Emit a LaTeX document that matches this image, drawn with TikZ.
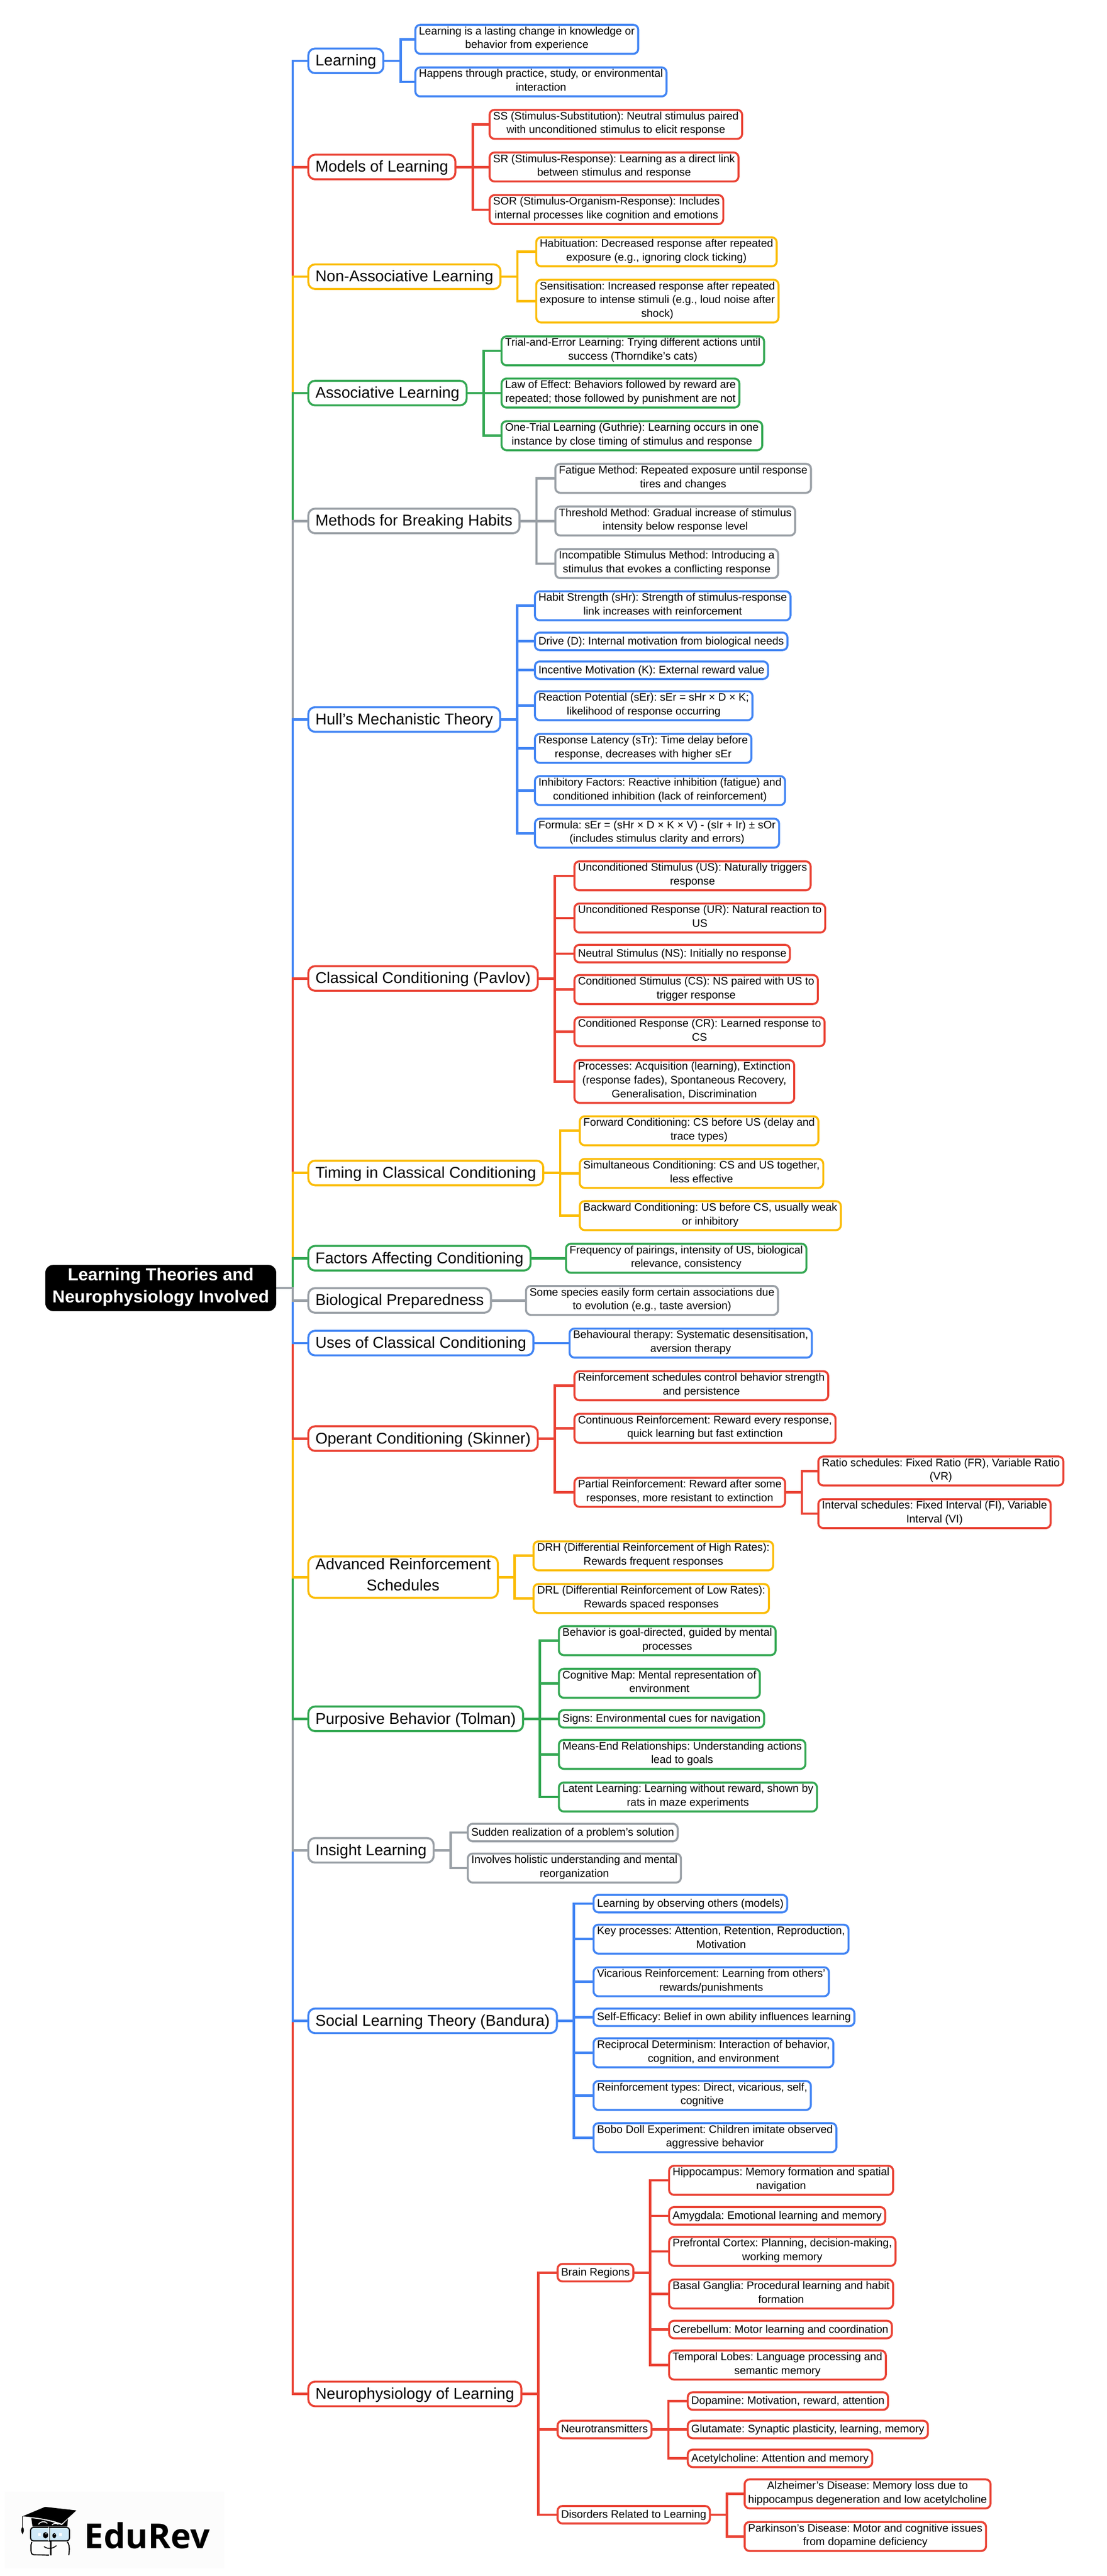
\documentclass[tikz,border=0pt]{standalone}
\usepackage{fontspec}
\setmainfont{Liberation Sans}
\newfontfamily\logofont{Open Sans}
\usepackage{tikz}
\usetikzlibrary{positioning}
\definecolor{cblue}{HTML}{4285F4}
\definecolor{cred}{HTML}{EA4335}
\definecolor{cyellow}{HTML}{FBBC04}
\definecolor{cgreen}{HTML}{34A853}
\definecolor{cgray}{HTML}{9AA0A6}
\definecolor{cglass}{HTML}{CFE8F7}
\newcommand{\mapstrut}{\rule[-.26\baselineskip]{0pt}{\baselineskip}}
\frenchspacing

\begin{document}
\begin{tikzpicture}
[rootbox/.style={rounded corners=0.18cm,fill=black,text=white,align=center,anchor=west,outer sep=0pt,inner xsep=0.16cm,inner ysep=0.065cm,font=\fontsize{11.1}{14.2}\selectfont\bfseries,execute at begin node=\mapstrut,execute at end node=\mapstrut},
mainbox/.style={rounded corners=0.15cm,draw=#1,fill=white,line width=0.045cm,align=center,anchor=west,outer sep=0pt,inner xsep=0.16cm,inner ysep=0.04cm,font=\fontsize{10}{13.46}\selectfont,execute at begin node=\mapstrut,execute at end node=\mapstrut},
leafbox/.style={rounded corners=0.11cm,draw=#1,fill=white,line width=0.045cm,align=center,anchor=west,outer sep=0pt,inner xsep=0.08cm,inner ysep=0.0425cm,font=\fontsize{7}{8.8}\selectfont,execute at begin node=\mapstrut,execute at end node=\mapstrut},
linkline/.style={draw=#1,line width=0.055cm}]
\useasboundingbox (0,0) rectangle (24.91,-58);

\node[rootbox] (root) at (1.02,-29.00) {Learning Theories and\\Neurophysiology Involved};

\node[mainbox=cblue] (learn) at (6.94,-1.37) {Learning};
\node[leafbox=cblue] (learn1) at (9.35,-0.885) {Learning is a lasting change in knowledge or\\behavior from experience};
\node[leafbox=cblue] (learn2) at (9.35,-1.845) {Happens through practice, study, or environmental\\interaction};

\node[mainbox=cred] (models) at (6.94,-3.76) {Models of Learning};
\node[leafbox=cred] (models1) at (11.02,-2.80) {SS (Stimulus-Substitution): Neutral stimulus paired\\with unconditioned stimulus to elicit response};
\node[leafbox=cred] (models2) at (11.02,-3.76) {SR (Stimulus-Response): Learning as a direct link\\between stimulus and response};
\node[leafbox=cred] (models3) at (11.02,-4.72) {SOR (Stimulus-Organism-Response): Includes\\internal processes like cognition and emotions};

\node[mainbox=cyellow] (nonassoc) at (6.94,-6.23) {Non-Associative Learning};
\node[leafbox=cyellow] (nonassoc1) at (12.07,-5.67) {Habituation: Decreased response after repeated\\exposure (e.g., ignoring clock ticking)};
\node[leafbox=cyellow] (nonassoc2) at (12.07,-6.78) {Sensitisation: Increased response after repeated\\exposure to intense stimuli (e.g., loud noise after\\shock)};

\node[mainbox=cgreen] (assoc) at (6.94,-8.85) {Associative Learning};
\node[leafbox=cgreen] (assoc1) at (11.29,-7.90) {Trial-and-Error Learning: Trying different actions until\\success (Thorndike's cats)};
\node[leafbox=cgreen] (assoc2) at (11.29,-8.85) {Law of Effect: Behaviors followed by reward are\\repeated; those followed by punishment are not};
\node[leafbox=cgreen] (assoc3) at (11.29,-9.81) {One-Trial Learning (Guthrie): Learning occurs in one\\instance by close timing of stimulus and response};

\node[mainbox=cgray] (habits) at (6.94,-11.73) {Methods for Breaking Habits};
\node[leafbox=cgray] (habits1) at (12.50,-10.77) {Fatigue Method: Repeated exposure until response\\tires and changes};
\node[leafbox=cgray] (habits2) at (12.50,-11.73) {Threshold Method: Gradual increase of stimulus\\intensity below response level};
\node[leafbox=cgray] (habits3) at (12.50,-12.69) {Incompatible Stimulus Method: Introducing a\\stimulus that evokes a conflicting response};

\node[mainbox=cblue] (hull) at (6.94,-16.20) {Hull's Mechanistic Theory};
\node[leafbox=cblue] (hull1) at (12.04,-13.64) {Habit Strength (sHr): Strength of stimulus-response\\link increases with reinforcement};
\node[leafbox=cblue] (hull2) at (12.04,-14.44) {Drive (D): Internal motivation from biological needs};
\node[leafbox=cblue] (hull3) at (12.04,-15.09) {Incentive Motivation (K): External reward value};
\node[leafbox=cblue] (hull4) at (12.04,-15.89) {Reaction Potential (sEr): sEr = sHr × D × K;\\likelihood of response occurring};
\node[leafbox=cblue] (hull5) at (12.04,-16.85) {Response Latency (sTr): Time delay before\\response, decreases with higher sEr};
\node[leafbox=cblue] (hull6) at (12.04,-17.80) {Inhibitory Factors: Reactive inhibition (fatigue) and\\conditioned inhibition (lack of reinforcement)};
\node[leafbox=cblue] (hull7) at (12.04,-18.76) {Formula: sEr = (sHr × D × K × V) - (sIr + Ir) ± sOr\\(includes stimulus clarity and errors)};

\node[mainbox=cred] (pavlov) at (6.94,-22.03) {Classical Conditioning (Pavlov)};
\node[leafbox=cred] (pavlov1) at (12.93,-19.72) {Unconditioned Stimulus (US): Naturally triggers\\response};
\node[leafbox=cred] (pavlov2) at (12.93,-20.67) {Unconditioned Response (UR): Natural reaction to\\US};
\node[leafbox=cred] (pavlov3) at (12.93,-21.47) {Neutral Stimulus (NS): Initially no response};
\node[leafbox=cred] (pavlov4) at (12.93,-22.28) {Conditioned Stimulus (CS): NS paired with US to\\trigger response};
\node[leafbox=cred] (pavlov5) at (12.93,-23.23) {Conditioned Response (CR): Learned response to\\CS};
\node[leafbox=cred] (pavlov6) at (12.93,-24.35) {Processes: Acquisition (learning), Extinction\\(response fades), Spontaneous Recovery,\\Generalisation, Discrimination};

\node[mainbox=cyellow] (timing) at (6.94,-26.41) {Timing in Classical Conditioning};
\node[leafbox=cyellow] (timing1) at (13.05,-25.46) {Forward Conditioning: CS before US (delay and\\trace types)};
\node[leafbox=cyellow] (timing2) at (13.05,-26.42) {Simultaneous Conditioning: CS and US together,\\less effective};
\node[leafbox=cyellow] (timing3) at (13.05,-27.37) {Backward Conditioning: US before CS, usually weak\\or inhibitory};

\node[mainbox=cgreen] (factors) at (6.94,-28.33) {Factors Affecting Conditioning};
\node[leafbox=cgreen] (factors1) at (12.74,-28.33) {Frequency of pairings, intensity of US, biological\\relevance, consistency};

\node[mainbox=cgray] (bio) at (6.94,-29.28) {Biological Preparedness};
\node[leafbox=cgray] (bio1) at (11.84,-29.28) {Some species easily form certain associations due\\to evolution (e.g., taste aversion)};

\node[mainbox=cblue] (uses) at (6.94,-30.24) {Uses of Classical Conditioning};
\node[leafbox=cblue] (uses1) at (12.82,-30.24) {Behavioural therapy: Systematic desensitisation,\\aversion therapy};

\node[mainbox=cred] (skinner) at (6.94,-32.39) {Operant Conditioning (Skinner)};
\node[leafbox=cred] (skinner1) at (12.93,-31.20) {Reinforcement schedules control behavior strength\\and persistence};
\node[leafbox=cred] (skinner2) at (12.93,-32.16) {Continuous Reinforcement: Reward every response,\\quick learning but fast extinction};
\node[leafbox=cred] (skinner3) at (12.93,-33.60) {Partial Reinforcement: Reward after some\\responses, more resistant to extinction};
\node[leafbox=cred] (ratio) at (18.42,-33.12) {Ratio schedules: Fixed Ratio (FR), Variable Ratio\\(VR)};
\node[leafbox=cred] (interval) at (18.42,-34.08) {Interval schedules: Fixed Interval (FI), Variable\\Interval (VI)};

\node[mainbox=cyellow] (advanced) at (6.94,-35.51) {Advanced Reinforcement\\Schedules};
\node[leafbox=cyellow] (advanced1) at (12.01,-35.03) {DRH (Differential Reinforcement of High Rates):\\Rewards frequent responses};
\node[leafbox=cyellow] (advanced2) at (12.01,-35.99) {DRL (Differential Reinforcement of Low Rates):\\Rewards spaced responses};

\node[mainbox=cgreen] (tolman) at (6.94,-38.70) {Purposive Behavior (Tolman)};
\node[leafbox=cgreen] (tolman1) at (12.58,-36.94) {Behavior is goal-directed, guided by mental\\processes};
\node[leafbox=cgreen] (tolman2) at (12.58,-37.90) {Cognitive Map: Mental representation of\\environment};
\node[leafbox=cgreen] (tolman3) at (12.58,-38.70) {Signs: Environmental cues for navigation};
\node[leafbox=cgreen] (tolman4) at (12.58,-39.50) {Means-End Relationships: Understanding actions\\lead to goals};
\node[leafbox=cgreen] (tolman5) at (12.58,-40.46) {Latent Learning: Learning without reward, shown by\\rats in maze experiments};

\node[mainbox=cgray] (insight) at (6.94,-41.66) {Insight Learning};
\node[leafbox=cgray] (insight1) at (10.53,-41.26) {Sudden realization of a problem's solution};
\node[leafbox=cgray] (insight2) at (10.53,-42.06) {Involves holistic understanding and mental\\reorganization};

\node[mainbox=cblue] (bandura) at (6.94,-45.50) {Social Learning Theory (Bandura)};
\node[leafbox=cblue] (bandura1) at (13.36,-42.86) {Learning by observing others (models)};
\node[leafbox=cblue] (bandura2) at (13.36,-43.66) {Key processes: Attention, Retention, Reproduction,\\Motivation};
\node[leafbox=cblue] (bandura3) at (13.36,-44.62) {Vicarious Reinforcement: Learning from others'\\rewards/punishments};
\node[leafbox=cblue] (bandura4) at (13.36,-45.42) {Self-Efficacy: Belief in own ability influences learning};
\node[leafbox=cblue] (bandura5) at (13.36,-46.22) {Reciprocal Determinism: Interaction of behavior,\\cognition, and environment};
\node[leafbox=cblue] (bandura6) at (13.36,-47.18) {Reinforcement types: Direct, vicarious, self,\\cognitive};
\node[leafbox=cblue] (bandura7) at (13.36,-48.13) {Bobo Doll Experiment: Children imitate observed\\aggressive behavior};

\node[mainbox=cred] (neuro) at (6.94,-53.90) {Neurophysiology of Learning};
\node[leafbox=cred] (brain) at (12.55,-51.17) {Brain Regions};
\node[leafbox=cred] (brain1) at (15.06,-49.09) {Hippocampus: Memory formation and spatial\\navigation};
\node[leafbox=cred] (brain2) at (15.06,-49.89) {Amygdala: Emotional learning and memory};
\node[leafbox=cred] (brain3) at (15.06,-50.69) {Prefrontal Cortex: Planning, decision-making,\\working memory};
\node[leafbox=cred] (brain4) at (15.06,-51.65) {Basal Ganglia: Procedural learning and habit\\formation};
\node[leafbox=cred] (brain5) at (15.06,-52.45) {Cerebellum: Motor learning and coordination};
\node[leafbox=cred] (brain6) at (15.06,-53.25) {Temporal Lobes: Language processing and\\semantic memory};
\node[leafbox=cred] (trans) at (12.55,-54.70) {Neurotransmitters};
\node[leafbox=cred] (trans1) at (15.48,-54.06) {Dopamine: Motivation, reward, attention};
\node[leafbox=cred] (trans2) at (15.48,-54.70) {Glutamate: Synaptic plasticity, learning, memory};
\node[leafbox=cred] (trans3) at (15.48,-55.35) {Acetylcholine: Attention and memory};
\node[leafbox=cred] (disorders) at (12.55,-56.62) {Disorders Related to Learning};
\node[leafbox=cred] (disorders1) at (16.76,-56.15) {Alzheimer's Disease: Memory loss due to\\hippocampus degeneration and low acetylcholine};
\node[leafbox=cred] (disorders2) at (16.76,-57.11) {Parkinson's Disease: Motor and cognitive issues\\from dopamine deficiency};

% spine, upper branches first
\draw [linkline=cblue] (root.east) -- ++(0.37,0) |- (learn.west);
\draw [linkline=cred] (root.east) -- ++(0.37,0) |- (models.west);
\draw [linkline=cyellow] (root.east) -- ++(0.37,0) |- (nonassoc.west);
\draw [linkline=cgreen] (root.east) -- ++(0.37,0) |- (assoc.west);
\draw [linkline=cgray] (root.east) -- ++(0.37,0) |- (habits.west);
\draw [linkline=cblue] (root.east) -- ++(0.37,0) |- (hull.west);
\draw [linkline=cred] (root.east) -- ++(0.37,0) |- (pavlov.west);
\draw [linkline=cyellow] (root.east) -- ++(0.37,0) |- (timing.west);
\draw [linkline=cgreen] (root.east) -- ++(0.37,0) |- (factors.west);
% spine, lower branches
\draw [linkline=cred] (root.east) -- ++(0.37,0) |- (neuro.west);
\draw [linkline=cblue] (root.east) -- ++(0.37,0) |- (bandura.west);
\draw [linkline=cgray] (root.east) -- ++(0.37,0) |- (insight.west);
\draw [linkline=cgreen] (root.east) -- ++(0.37,0) |- (tolman.west);
\draw [linkline=cyellow] (root.east) -- ++(0.37,0) |- (advanced.west);
\draw [linkline=cred] (root.east) -- ++(0.37,0) |- (skinner.west);
\draw [linkline=cblue] (root.east) -- ++(0.37,0) |- (uses.west);
\draw [linkline=cgray] (root.east) -- ++(0.37,0) |- (bio.west);

\draw [linkline=cblue] (learn.east) -- ++(0.39,0) |- (learn1.west);
\draw [linkline=cblue] (learn.east) -- ++(0.39,0) |- (learn2.west);

\draw [linkline=cred] (models.east) -- ++(0.39,0) |- (models1.west);
\draw [linkline=cred] (models.east) -- (models2.west);
\draw [linkline=cred] (models.east) -- ++(0.39,0) |- (models3.west);

\draw [linkline=cyellow] (nonassoc.east) -- ++(0.38,0) |- (nonassoc1.west);
\draw [linkline=cyellow] (nonassoc.east) -- ++(0.38,0) |- (nonassoc2.west);

\draw [linkline=cgreen] (assoc.east) -- ++(0.38,0) |- (assoc1.west);
\draw [linkline=cgreen] (assoc.east) -- (assoc2.west);
\draw [linkline=cgreen] (assoc.east) -- ++(0.38,0) |- (assoc3.west);

\draw [linkline=cgray] (habits.east) -- ++(0.38,0) |- (habits1.west);
\draw [linkline=cgray] (habits.east) -- (habits2.west);
\draw [linkline=cgray] (habits.east) -- ++(0.38,0) |- (habits3.west);

\draw [linkline=cblue] (hull.east) -- ++(0.38,0) |- (hull1.west);
\draw [linkline=cblue] (hull.east) -- ++(0.38,0) |- (hull2.west);
\draw [linkline=cblue] (hull.east) -- ++(0.38,0) |- (hull3.west);
\draw [linkline=cblue] (hull.east) -- ++(0.38,0) |- (hull4.west);
\draw [linkline=cblue] (hull.east) -- ++(0.38,0) |- (hull5.west);
\draw [linkline=cblue] (hull.east) -- ++(0.38,0) |- (hull6.west);
\draw [linkline=cblue] (hull.east) -- ++(0.38,0) |- (hull7.west);

\draw [linkline=cred] (pavlov.east) -- ++(0.38,0) |- (pavlov1.west);
\draw [linkline=cred] (pavlov.east) -- ++(0.38,0) |- (pavlov2.west);
\draw [linkline=cred] (pavlov.east) -- ++(0.38,0) |- (pavlov3.west);
\draw [linkline=cred] (pavlov.east) -- ++(0.38,0) |- (pavlov4.west);
\draw [linkline=cred] (pavlov.east) -- ++(0.38,0) |- (pavlov5.west);
\draw [linkline=cred] (pavlov.east) -- ++(0.38,0) |- (pavlov6.west);

\draw [linkline=cyellow] (timing.east) -- ++(0.38,0) |- (timing1.west);
\draw [linkline=cyellow] (timing.east) -- ++(0.38,0) |- (timing2.west);
\draw [linkline=cyellow] (timing.east) -- ++(0.38,0) |- (timing3.west);

\draw [linkline=cgreen] (factors.east) -- (factors1.west);
\draw [linkline=cgray] (bio.east) -- (bio1.west);
\draw [linkline=cblue] (uses.east) -- (uses1.west);

\draw [linkline=cred] (skinner.east) -- ++(0.38,0) |- (skinner1.west);
\draw [linkline=cred] (skinner.east) -- ++(0.38,0) |- (skinner2.west);
\draw [linkline=cred] (skinner.east) -- ++(0.38,0) |- (skinner3.west);
\draw [linkline=cred] (skinner3.east) -- ++(0.38,0) |- (ratio.west);
\draw [linkline=cred] (skinner3.east) -- ++(0.38,0) |- (interval.west);

\draw [linkline=cyellow] (advanced.east) -- ++(0.38,0) |- (advanced1.west);
\draw [linkline=cyellow] (advanced.east) -- ++(0.38,0) |- (advanced2.west);

\draw [linkline=cgreen] (tolman.east) -- ++(0.38,0) |- (tolman1.west);
\draw [linkline=cgreen] (tolman.east) -- ++(0.38,0) |- (tolman2.west);
\draw [linkline=cgreen] (tolman.east) -- (tolman3.west);
\draw [linkline=cgreen] (tolman.east) -- ++(0.38,0) |- (tolman4.west);
\draw [linkline=cgreen] (tolman.east) -- ++(0.38,0) |- (tolman5.west);

\draw [linkline=cgray] (insight.east) -- ++(0.38,0) |- (insight1.west);
\draw [linkline=cgray] (insight.east) -- ++(0.38,0) |- (insight2.west);

\draw [linkline=cblue] (bandura.east) -- ++(0.38,0) |- (bandura1.west);
\draw [linkline=cblue] (bandura.east) -- ++(0.38,0) |- (bandura2.west);
\draw [linkline=cblue] (bandura.east) -- ++(0.38,0) |- (bandura3.west);
\draw [linkline=cblue] (bandura.east) -- ++(0.38,0) |- (bandura4.west);
\draw [linkline=cblue] (bandura.east) -- ++(0.38,0) |- (bandura5.west);
\draw [linkline=cblue] (bandura.east) -- ++(0.38,0) |- (bandura6.west);
\draw [linkline=cblue] (bandura.east) -- ++(0.38,0) |- (bandura7.west);

\draw [linkline=cred] (neuro.east) -- ++(0.38,0) |- (brain.west);
\draw [linkline=cred] (neuro.east) -- ++(0.38,0) |- (trans.west);
\draw [linkline=cred] (neuro.east) -- ++(0.38,0) |- (disorders.west);
\draw [linkline=cred] (brain.east) -- ++(0.38,0) |- (brain1.west);
\draw [linkline=cred] (brain.east) -- ++(0.38,0) |- (brain2.west);
\draw [linkline=cred] (brain.east) -- ++(0.38,0) |- (brain3.west);
\draw [linkline=cred] (brain.east) -- ++(0.38,0) |- (brain4.west);
\draw [linkline=cred] (brain.east) -- ++(0.38,0) |- (brain5.west);
\draw [linkline=cred] (brain.east) -- ++(0.38,0) |- (brain6.west);
\draw [linkline=cred] (trans.east) -- ++(0.38,0) |- (trans1.west);
\draw [linkline=cred] (trans.east) -- (trans2.west);
\draw [linkline=cred] (trans.east) -- ++(0.38,0) |- (trans3.west);
\draw [linkline=cred] (disorders.east) -- ++(0.38,0) |- (disorders1.west);
\draw [linkline=cred] (disorders.east) -- ++(0.38,0) |- (disorders2.west);

% logo
\fill [black!1] (0.10,-56.10) rectangle (5.05,-57.83);
\node [anchor=base west,inner sep=0pt,outer sep=0pt,font=\fontsize{22}{22}\selectfont\logofont\bfseries] (edurev) at (1.90,-57.38) {EduRev};
\begin{scope}[shift={(0.20,-56.20)},x=0.003333cm,y=-0.003333cm]
\fill (92,137) -- (245,73) -- (457,97) -- (358,187) .. controls (290,160) and (200,145) .. cycle;
\fill (152,150) .. controls (220,155) and (290,172) .. (358,197) -- (400,155) -- (395,207) -- (160,207) -- cycle;
\draw [white,line width=0.02cm] (200,192) .. controls (215,168) and (245,168) .. (260,185);
\draw [white,line width=0.02cm] (292,195) .. controls (305,182) and (322,182) .. (335,192);
\draw [line width=0.012cm] (92,137) -- (92,212);
\fill (92,208) .. controls (80,222) and (80,238) .. (92,258) .. controls (105,238) and (105,222) .. cycle;
\draw [fill=cglass,line width=0.025cm,rounded corners=0.06cm] (147,212) rectangle (410,303);
\fill [white] (197,250) rectangle (215,270);
\fill [white] (341,250) rectangle (359,270);
\draw [white,line width=0.012cm] (268,205) -- (268,305);
\draw [line width=0.02cm] (276,208) -- (276,312);
\draw [line width=0.028cm] (283,300) -- (283,402);
\fill (248,265) ellipse [x radius=17,y radius=21];
\fill (307,268) ellipse [x radius=13,y radius=17];
\fill [white] (251,255) circle [radius=4];
\fill [white] (309,260) circle [radius=3];
\draw [line width=0.025cm] (272,400) -- (170,397) .. controls (152,396) and (150,385) .. (150,360) -- (150,330) .. controls (150,320) .. (155,310);
\draw [line width=0.025cm] (395,310) .. controls (410,325) and (412,360) .. (405,400);
\draw [line width=0.02cm] (238,342) .. controls (265,360) and (295,358) .. (322,335);
\end{scope}
\end{tikzpicture}
\end{document}
